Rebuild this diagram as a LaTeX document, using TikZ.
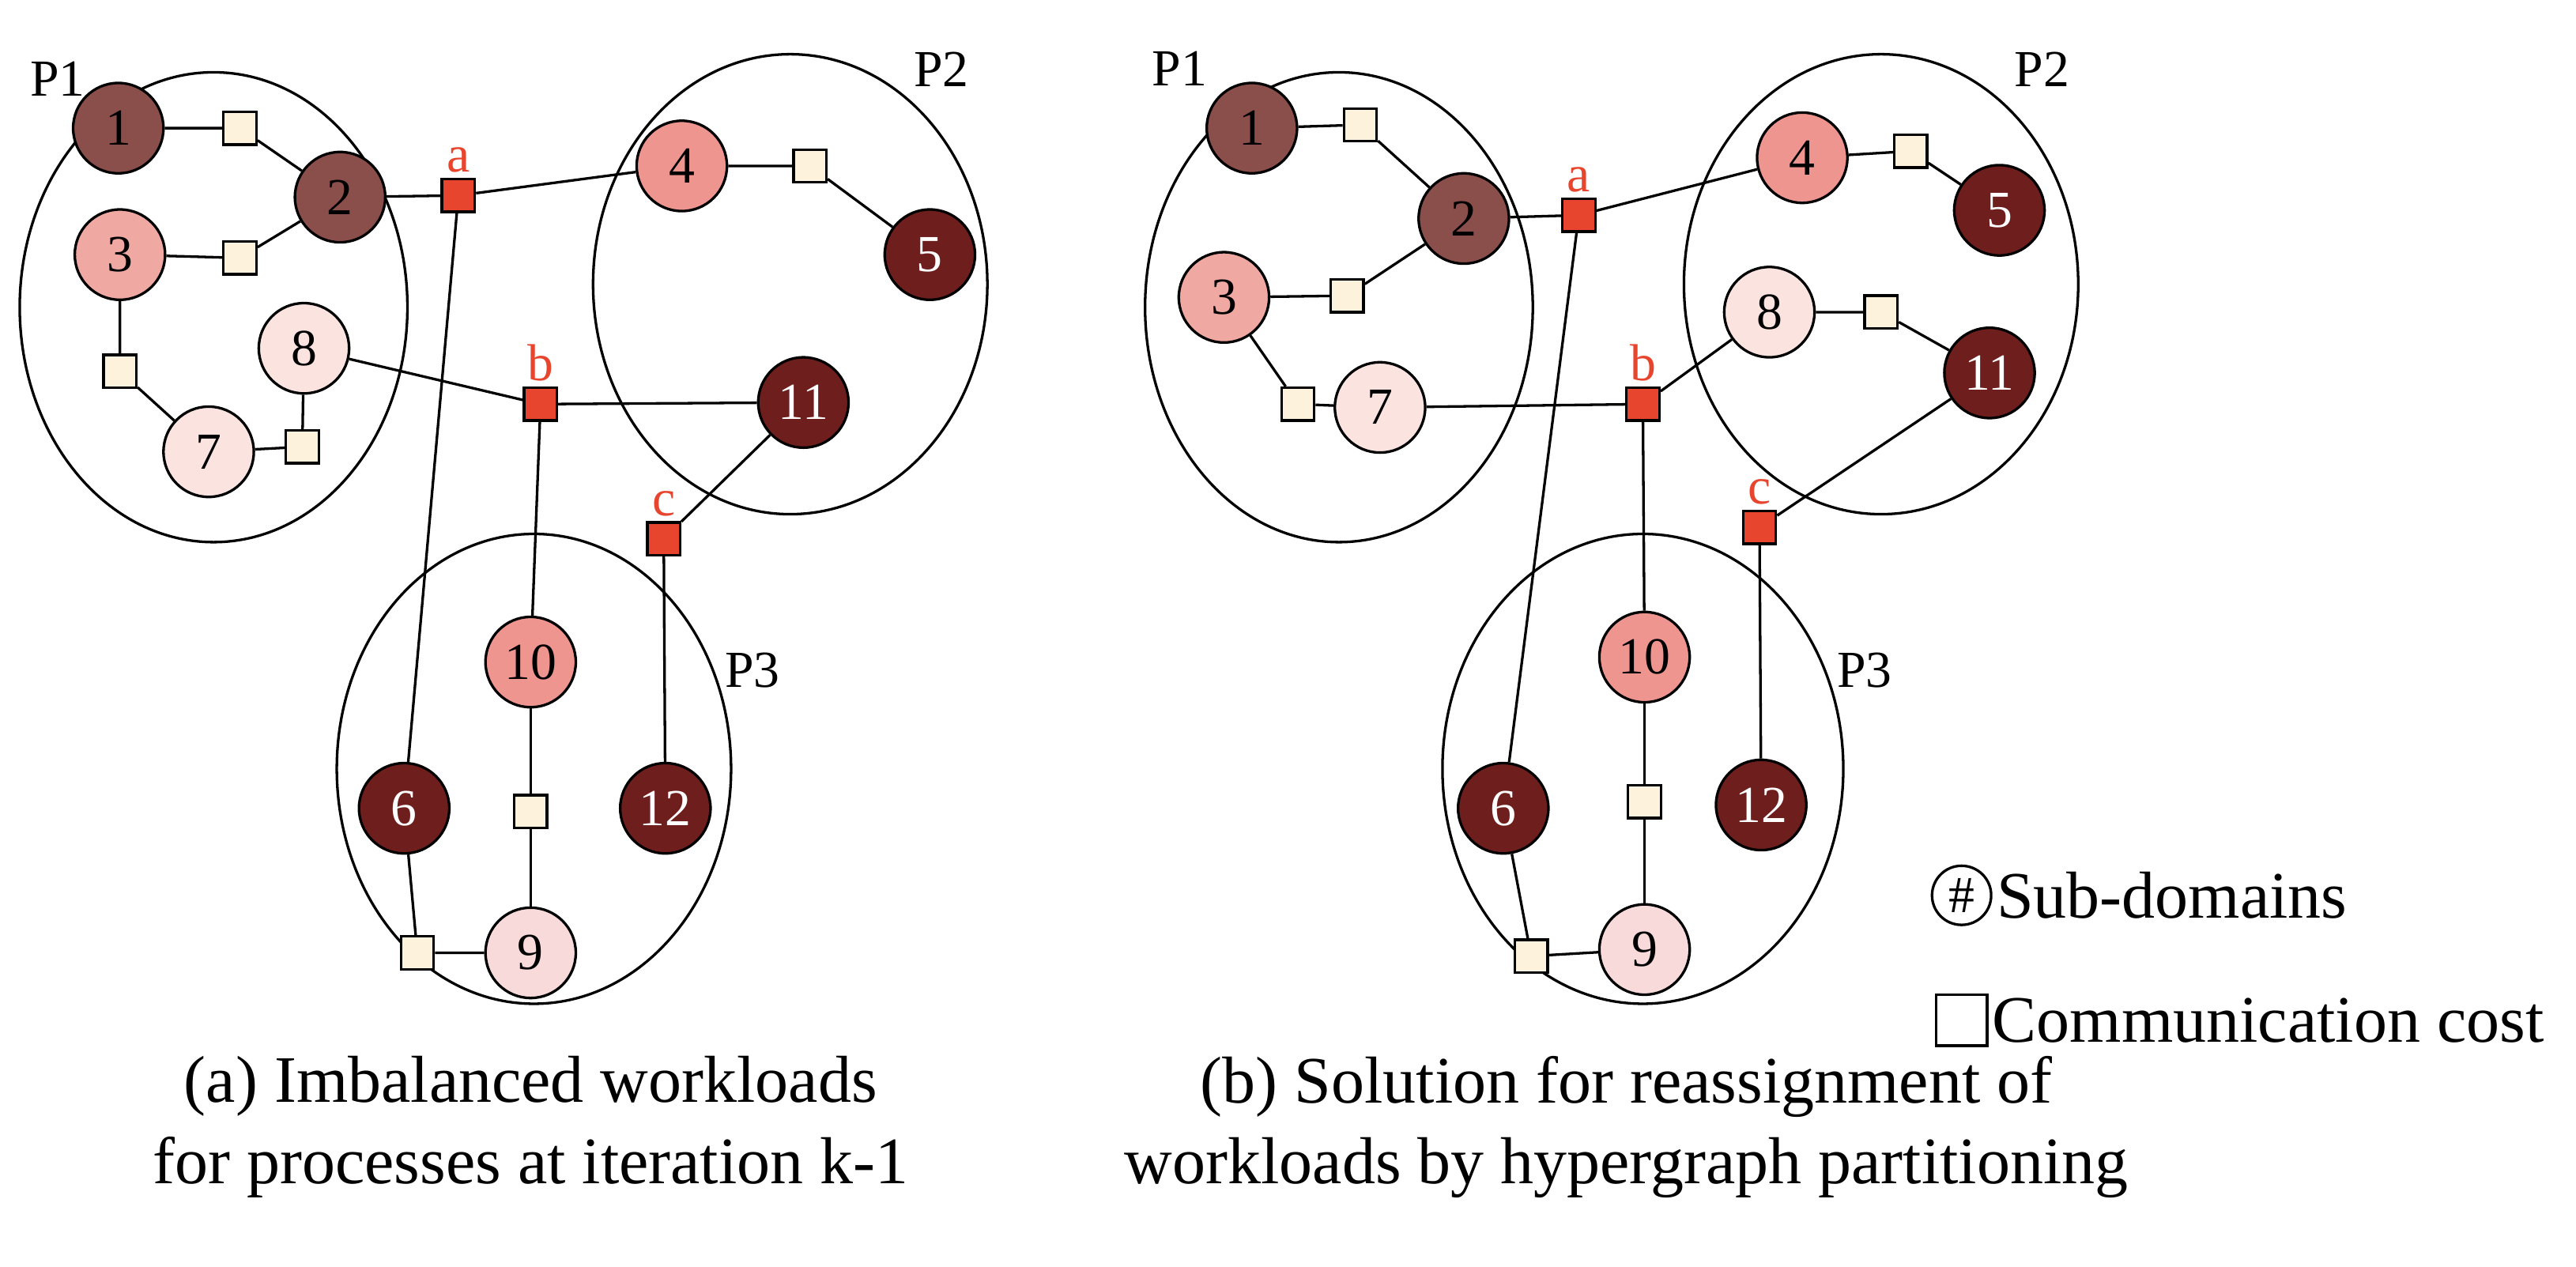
\documentclass[tikz,border=0pt]{standalone}
\usepackage{fontspec}
\setmainfont{Liberation Serif}
\begin{document}
\definecolor{cA}{HTML}{8B4F4B}
\definecolor{cB}{HTML}{F0A8A2}
\definecolor{cC}{HTML}{FBE3E0}
\definecolor{cD}{HTML}{EE9590}
\definecolor{cE}{HTML}{6E1F1D}
\definecolor{cF}{HTML}{F8DADA}
\definecolor{cream}{HTML}{FDF3DC}
\definecolor{hred}{HTML}{E8452E}
\begin{tikzpicture}[x=0.02cm,y=-0.02cm,line width=0.9pt,
 v/.style={circle,draw,minimum size=1.1cm,inner sep=0pt,font=\fontsize{18}{18}\selectfont},
 vd/.style={v,text=white},
 s/.style={rectangle,draw,fill=cream,minimum size=0.4cm,inner sep=0pt},
 h/.style={rectangle,draw,fill=hred,minimum size=0.4cm,inner sep=0pt},
 hl/.style={text=hred,font=\fontsize{18}{18}\selectfont},
 pl/.style={font=\fontsize{18}{18}\selectfont},
 captxt/.style={font=\fontsize{23}{28}\selectfont,align=center}]
\useasboundingbox (0,0) rectangle (1568,771);
% ---------- left
\draw (130,187) ellipse [x radius=118,y radius=143];
\draw (481,173) ellipse [x radius=120,y radius=140];
\draw (325,468) ellipse [x radius=120,y radius=143];
\node[pl] (lP1) at (35,48) {P1};
\node[pl] (lP2) at (573,42) {P2};
\node[pl] (lP3) at (458,408) {P3};
\node[v,fill=cA] (l1) at (72,78) {1};
\node[v,fill=cA] (l2) at (207,120) {2};
\node[v,fill=cB] (l3) at (73,155) {3};
\node[v,fill=cC] (l8) at (185,212) {8};
\node[v,fill=cC] (l7) at (127,275) {7};
\node[v,fill=cD] (l4) at (415,101) {4};
\node[vd,fill=cE] (l5) at (566,155) {5};
\node[vd,fill=cE] (l11) at (489,245) {11};
\node[v,fill=cD] (l10) at (323,403) {10};
\node[vd,fill=cE] (l6) at (246,492) {6};
\node[vd,fill=cE] (l12) at (405,492) {12};
\node[v,fill=cF] (l9) at (323,580) {9};
\node[s] (ls12) at (146,78) {};
\node[s] (ls32) at (146,157) {};
\node[s] (ls37) at (73,226) {};
\node[s] (ls78) at (184,272) {};
\node[s] (ls45) at (493,101) {};
\node[s] (ls109) at (323,494) {};
\node[s] (ls69) at (254,580) {};
\node[h] (la) at (279,119) {};
\node[h] (lb) at (329,246) {};
\node[h] (lc) at (404,328) {};
\node[hl,above=-2pt] at (la.north) {a};
\node[hl,above=-2pt] at (lb.north) {b};
\node[hl,above=-2pt] at (lc.north) {c};
\draw (l1)--(ls12)--(l2);
\draw (l3)--(ls32)--(l2);
\draw (l3)--(ls37)--(l7);
\draw (l8)--(ls78)--(l7);
\draw (l4)--(ls45)--(l5);
\draw (l10)--(ls109)--(l9);
\draw (l6)--(ls69)--(l9);
\draw (l2)--(la)--(l4); \draw (la)--(l6);
\draw (l8)--(lb)--(l11); \draw (lb)--(l10);
\draw (l11)--(lc)--(l12);
% ---------- right
\draw (815,187) ellipse [x radius=118,y radius=143];
\draw (1145,173) ellipse [x radius=120,y radius=140];
\draw (1000,468) ellipse [x radius=122,y radius=143];
\node[pl] (rP1) at (718,42) {P1};
\node[pl] (rP2) at (1243,42) {P2};
\node[pl] (rP3) at (1135,408) {P3};
\node[v,fill=cA] (r1) at (762,78) {1};
\node[v,fill=cA] (r2) at (891,133) {2};
\node[v,fill=cB] (r3) at (745,181) {3};
\node[v,fill=cC] (r7) at (840,248) {7};
\node[v,fill=cD] (r4) at (1097,96) {4};
\node[vd,fill=cE] (r5) at (1217,128) {5};
\node[v,fill=cC] (r8) at (1077,190) {8};
\node[vd,fill=cE] (r11) at (1211,227) {11};
\node[v,fill=cD] (r10) at (1001,400) {10};
\node[vd,fill=cE] (r6) at (915,492) {6};
\node[vd,fill=cE] (r12) at (1072,490) {12};
\node[v,fill=cF] (r9) at (1001,578) {9};
\node[s] (rs12) at (828,76) {};
\node[s] (rs32) at (820,180) {};
\node[s] (rs37) at (790,246) {};
\node[s] (rs45) at (1163,92) {};
\node[s] (rs811) at (1145,190) {};
\node[s] (rs109) at (1001,488) {};
\node[s] (rs69) at (932,582) {};
\node[h] (ra) at (961,131) {};
\node[h] (rb) at (1000,246) {};
\node[h] (rc) at (1071,321) {};
\node[hl,above=-2pt] at (ra.north) {a};
\node[hl,above=-2pt] at (rb.north) {b};
\node[hl,above=-2pt] at (rc.north) {c};
\draw (r1)--(rs12)--(r2);
\draw (r3)--(rs32)--(r2);
\draw (r3)--(rs37)--(r7);
\draw (r4)--(rs45)--(r5);
\draw (r8)--(rs811)--(r11);
\draw (r10)--(rs109)--(r9);
\draw (r6)--(rs69)--(r9);
\draw (r2)--(ra)--(r4); \draw (ra)--(r6);
\draw (r7)--(rb)--(r8); \draw (rb)--(r10);
\draw (r11)--(rc)--(r12);
% ---------- legend
\node[circle,draw,minimum size=0.72cm,inner sep=0pt,font=\fontsize{18}{18}\selectfont] (lgc) at (1194,545) {\#};
\node[anchor=west,font=\fontsize{23}{23}\selectfont,inner sep=1pt] (lgct) at (lgc.east) {Sub-domains};
\node[rectangle,draw,minimum size=0.62cm,inner sep=0pt] (lgs) at (1194,621) {};
\node[anchor=west,font=\fontsize{23}{23}\selectfont,inner sep=1pt] (lgst) at (lgs.east) {Communication cost};
% ---------- captions
\node[captxt] (capa) at (323,686) {(a) Imbalanced workloads\\for processes at iteration k-1};
\node[captxt] (capb) at (990,686) {(b) Solution for reassignment of\\workloads by hypergraph partitioning};
\end{tikzpicture}
\end{document}
